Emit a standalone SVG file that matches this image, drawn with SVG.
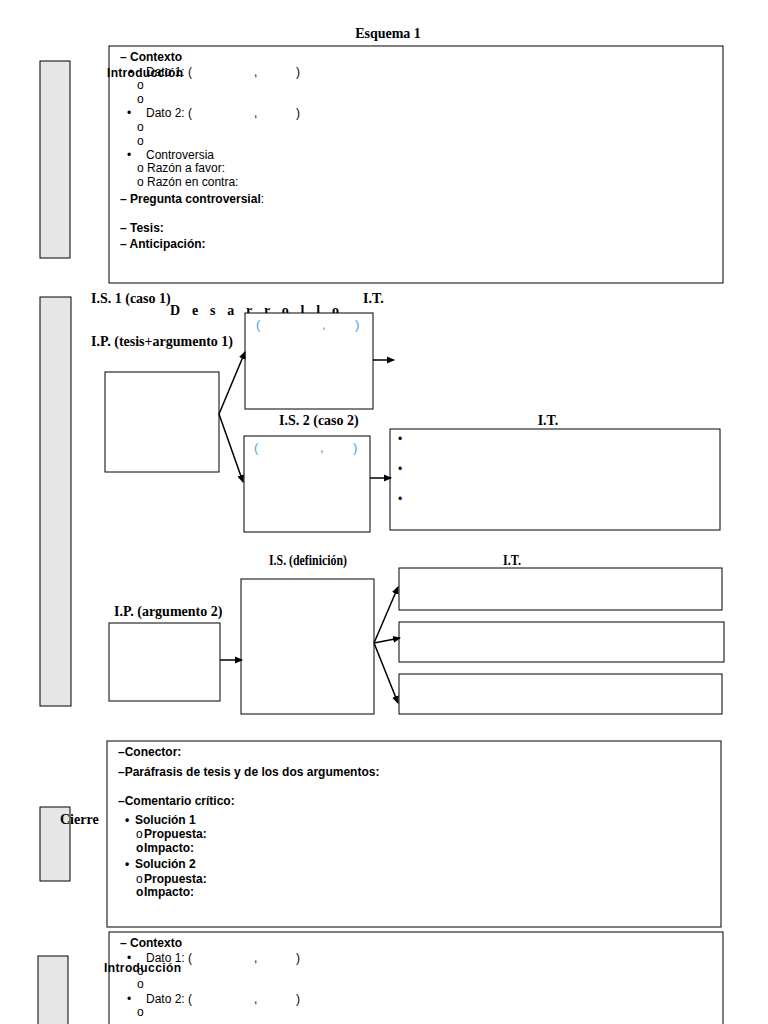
<svg xmlns="http://www.w3.org/2000/svg" width="768" height="1024" viewBox="0 0 768 1024">
<defs>
<marker id="ah" markerWidth="8" markerHeight="8" refX="7" refY="4" orient="auto" markerUnits="userSpaceOnUse">
<path d="M0,0.5 L8,4 L0,7.5 Z" fill="#000"/>
</marker>
<style>
.box{fill:#fff;stroke:#000;stroke-width:1}
.bar{fill:#e6e6e6;stroke:#000;stroke-width:1}
.sf{font-family:"Liberation Serif","Times New Roman",serif;font-weight:bold;font-size:14px;fill:#000}
.sn{font-family:"Liberation Sans Narrow","Liberation Sans",Arial,sans-serif;font-size:12px;fill:#000}
.b{font-weight:bold}
.blue{font-family:"Liberation Sans",Arial,sans-serif;font-size:13px;fill:#4a9ae0}
.con{stroke:#000;stroke-width:1.5;fill:none}
</style>
</defs>
<rect width="768" height="1024" fill="#fff"/>

<text class="sf" x="388" y="38" text-anchor="middle" font-size="15">Esquema 1</text>

<g id="intro1">
<rect class="bar" x="40" y="61" width="30" height="197"/>
<rect class="box" x="109" y="46" width="614" height="237"/>
<text class="sn b" x="120" y="61">–  Contexto</text>
<text class="sn" x="129" y="76">•</text>
<text class="sn" x="146" y="76">Dato 1: (</text>
<text class="sn" x="254" y="76">,</text>
<text class="sn" x="296" y="76">)</text>
<text class="sn b" x="107" y="77" font-size="14" textLength="76">Introducción</text>
<text class="sn" x="137" y="89">o</text>
<text class="sn" x="137" y="103">o</text>
<text class="sn" x="127" y="117">•</text>
<text class="sn" x="146" y="117">Dato 2: (</text>
<text class="sn" x="254" y="117">,</text>
<text class="sn" x="296" y="117">)</text>
<text class="sn" x="137" y="131">o</text>
<text class="sn" x="137" y="145">o</text>
<text class="sn" x="127" y="159">•</text>
<text class="sn" x="146" y="159">Controversia</text>
<text class="sn" x="137" y="172">o Razón a favor:</text>
<text class="sn" x="137" y="186">o Razón en contra:</text>
<text class="sn" x="120" y="203"><tspan class="b">–  Pregunta controversial</tspan>:</text>
<text class="sn b" x="120" y="232">–  Tesis:</text>
<text class="sn b" x="120" y="248">–  Anticipación:</text>
</g>

<g id="desarrollo">
<rect class="bar" x="40" y="297" width="31" height="409"/>
<text class="sf" x="91" y="303" font-size="14.2">I.S. 1 (caso 1)</text>
<text class="sf" x="170" y="315" letter-spacing="11.8">Desarrollo</text>
<text class="sf" x="363" y="303">I.T.</text>
<text class="sf" x="91" y="346" font-size="14.3">I.P. (tesis+argumento 1)</text>
</g>

<g id="is1">
<rect class="box" x="245" y="313" width="128" height="96"/>
<text class="blue" x="256" y="329">(</text>
<text class="blue" x="322" y="329">,</text>
<text class="blue" x="355" y="329">)</text>
</g>
<g id="ip1"><rect class="box" x="105" y="372" width="114" height="100"/></g>
<g id="is2label"><text class="sf" x="279" y="425">I.S. 2 (caso 2)</text>
<text class="sf" x="548" y="425" text-anchor="middle">I.T.</text></g>
<g id="is2">
<rect class="box" x="244" y="436" width="126" height="96"/>
<text class="blue" x="254" y="452">(</text>
<text class="blue" x="320" y="452">,</text>
<text class="blue" x="353" y="452">)</text>
</g>
<g id="it2">
<rect class="box" x="390" y="429" width="330" height="101" stroke-width="1.3"/>
<text class="sn" x="398" y="443">•</text>
<text class="sn" x="398" y="473">•</text>
<text class="sn" x="398" y="503">•</text>
</g>

<g id="labels2">
<text class="sf" x="269" y="565" font-size="12.5" textLength="78" lengthAdjust="spacingAndGlyphs">I.S. (definición)</text>
<text class="sf" x="503" y="565" font-size="12.5" textLength="18" lengthAdjust="spacingAndGlyphs">I.T.</text>
<text class="sf" x="114" y="616" font-size="14.5">I.P. (argumento 2)</text>
</g>
<g id="ip2"><rect class="box" x="109" y="623" width="111" height="78"/></g>
<g id="isdef"><rect class="box" x="241" y="579" width="133" height="135"/></g>
<g id="it3a"><rect class="box" x="399" y="568" width="323" height="42"/></g>
<g id="it3b"><rect class="box" x="399" y="622" width="325" height="40" stroke-width="1.6"/></g>
<g id="it3c"><rect class="box" x="399" y="674" width="323" height="40" stroke-width="1.3"/></g>

<g id="connectors">
<line class="con" x1="219" y1="414" x2="245" y2="352" marker-end="url(#ah)"/>
<line class="con" x1="219" y1="414" x2="243" y2="482" marker-end="url(#ah)"/>
<line class="con" x1="373" y1="360" x2="394" y2="360" marker-end="url(#ah)"/>
<line class="con" x1="370" y1="478" x2="391" y2="478" marker-end="url(#ah)"/>
<line class="con" x1="220" y1="660" x2="242" y2="660" marker-end="url(#ah)"/>
<line class="con" x1="374" y1="643" x2="398" y2="587" marker-end="url(#ah)"/>
<line class="con" x1="374" y1="643" x2="400" y2="638" marker-end="url(#ah)"/>
<line class="con" x1="374" y1="643" x2="398" y2="703" marker-end="url(#ah)"/>
</g>

<g id="cierre">
<rect class="box" x="107" y="741" width="614" height="186"/>
<rect class="bar" x="40" y="807" width="30" height="74"/>
<text class="sf" x="60" y="824" font-size="15">Cierre</text>
<text class="sn b" x="118" y="756">–Conector:</text>
<text class="sn b" x="118" y="776">–Paráfrasis de tesis y de los dos argumentos:</text>
<text class="sn b" x="118" y="805">–Comentario crítico:</text>
<text class="sn b" x="125" y="824">•</text>
<text class="sn b" x="135" y="824">Solución 1</text>
<text class="sn" x="136" y="838">o</text>
<text class="sn b" x="144" y="838">Propuesta:</text>
<text class="sn b" x="136" y="852">o</text>
<text class="sn b" x="144" y="852">Impacto:</text>
<text class="sn b" x="125" y="868">•</text>
<text class="sn b" x="135" y="868">Solución 2</text>
<text class="sn" x="136" y="883">o</text>
<text class="sn b" x="144" y="883">Propuesta:</text>
<text class="sn b" x="136" y="896">o</text>
<text class="sn b" x="144" y="896">Impacto:</text>
</g>

<g id="intro2">
<rect class="bar" x="38" y="956" width="30" height="80"/>
<rect class="box" x="109" y="932" width="614" height="100"/>
<text class="sn b" x="120" y="947">–  Contexto</text>
<text class="sn" x="127" y="962">•</text>
<text class="sn" x="146" y="962">Dato 1: (</text>
<text class="sn" x="254" y="962">,</text>
<text class="sn" x="296" y="962">)</text>
<text class="sn" x="137" y="975">o</text>
<text class="sn b" x="104" y="972" font-size="14" textLength="77">Introducción</text>
<text class="sn" x="137" y="988">o</text>
<text class="sn" x="127" y="1003">•</text>
<text class="sn" x="146" y="1003">Dato 2: (</text>
<text class="sn" x="254" y="1003">,</text>
<text class="sn" x="296" y="1003">)</text>
<text class="sn" x="137" y="1016">o</text>
</g>
</svg>
